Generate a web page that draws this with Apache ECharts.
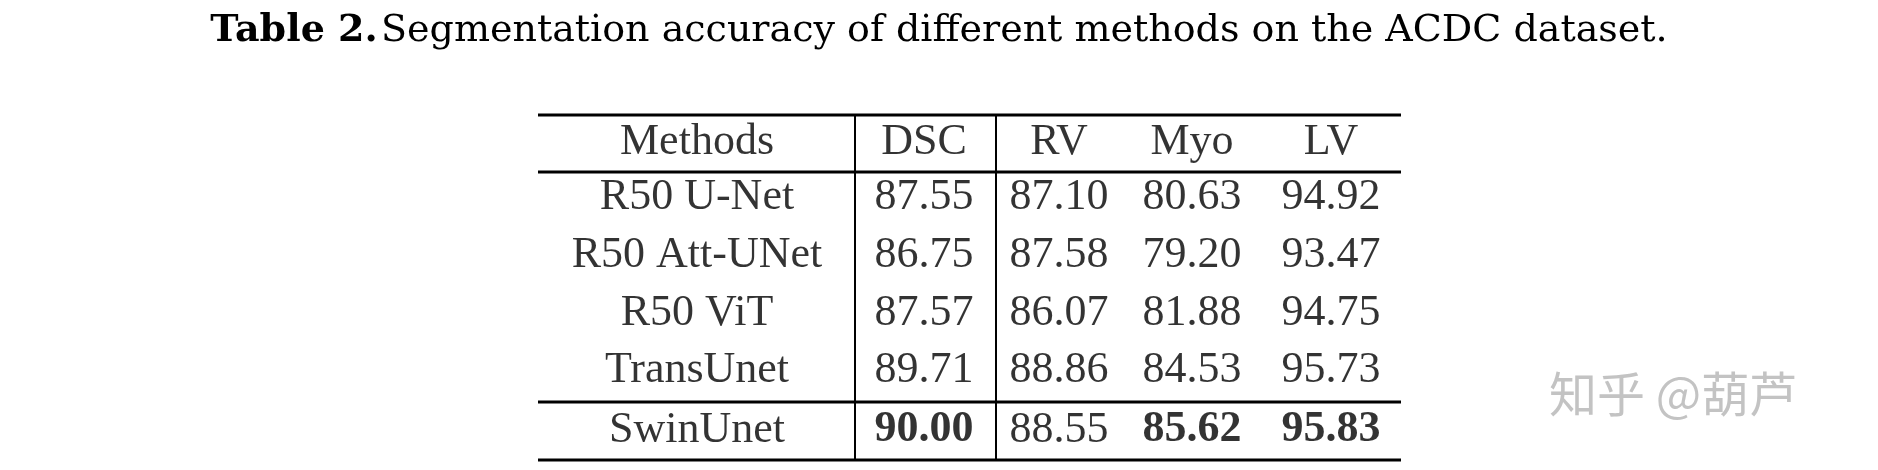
<!DOCTYPE html><html><head><meta charset="utf-8">
<script src="https://cdn.jsdelivr.net/npm/echarts@6/dist/echarts.min.js"></script>
<style>html,body{margin:0;background:#fff}#c{width:1878px;height:470px}</style></head><body><div id="c"></div>
<script>
const methods=["R50 U-Net","R50 Att-UNet","R50 ViT","TransUnet","SwinUnet"];
const columns=["Methods","DSC","RV","Myo","LV"];
const DSC=[87.55,86.75,87.57,89.71,90.00];
const RV=[87.10,87.58,86.07,88.86,88.55];
const Myo=[80.63,79.20,81.88,84.53,85.62];
const LV=[94.92,93.47,94.75,95.73,95.83];
const boldCells=[[1,4],[3,4],[4,4]];
const colX=[697,924,1059,1192,1331];
const rowY=[142,197,255,313,370,430];
const FONT='"Liberation Serif", serif';
const vals=[DSC,RV,Myo,LV];
const pts=[];
columns.forEach((c,i)=>pts.push({value:[colX[i],rowY[0]],name:c,bold:false}));
methods.forEach((m,r)=>{
  pts.push({value:[colX[0],rowY[r+1]],name:m,bold:false});
  vals.forEach((arr,ci)=>{
    const b=boldCells.some(([a,rr])=>a===ci+1&&rr===r);
    pts.push({value:[colX[ci+1],rowY[r+1]],name:arr[r].toFixed(2),bold:b});
  });
});
const data=pts.map(p=>({value:p.value,name:p.name,label:{fontWeight:p.bold?'bold':'normal'}}));
const lineC='#000';
const hl=(y,w)=>({type:'line',shape:{x1:538,y1:y,x2:1401,y2:y},style:{stroke:lineC,lineWidth:w}});
const vl=(x)=>({type:'line',shape:{x1:x,y1:115,x2:x,y2:460},style:{stroke:lineC,lineWidth:2}});
const chart=echarts.init(document.getElementById('c'));
chart.setOption({
  animation:false,
  grid:{left:0,right:0,top:0,bottom:0},
  xAxis:{type:'value',min:0,max:1878,show:false},
  yAxis:{type:'value',min:0,max:470,inverse:true,show:false},
  series:[{type:'scatter',symbolSize:0,data,
    label:{show:true,position:'inside',formatter:p=>p.name,fontFamily:FONT,fontSize:44,color:'#000'}}],
  graphic:[
    {type:'text',left:'center',top:12,style:{rich:{b:{fontWeight:'bold',fontFamily:'"DejaVu Serif"',fontSize:38,fill:'#000'},n:{fontFamily:'"DejaVu Serif"',fontSize:38,fill:'#000'}},text:'{b|Table 2.} {n|Segmentation accuracy of different methods on the ACDC dataset.}'}},
    hl(115,3),hl(172,3),hl(402,3),hl(460,3),vl(855),vl(996),
    {type:'text',left:1549,top:370,style:{text:'知乎 @葫芦',fontFamily:'"Noto Sans CJK SC"',fontSize:48,fill:'rgba(180,180,180,0.8)'}}
  ]
});
</script></body></html>
